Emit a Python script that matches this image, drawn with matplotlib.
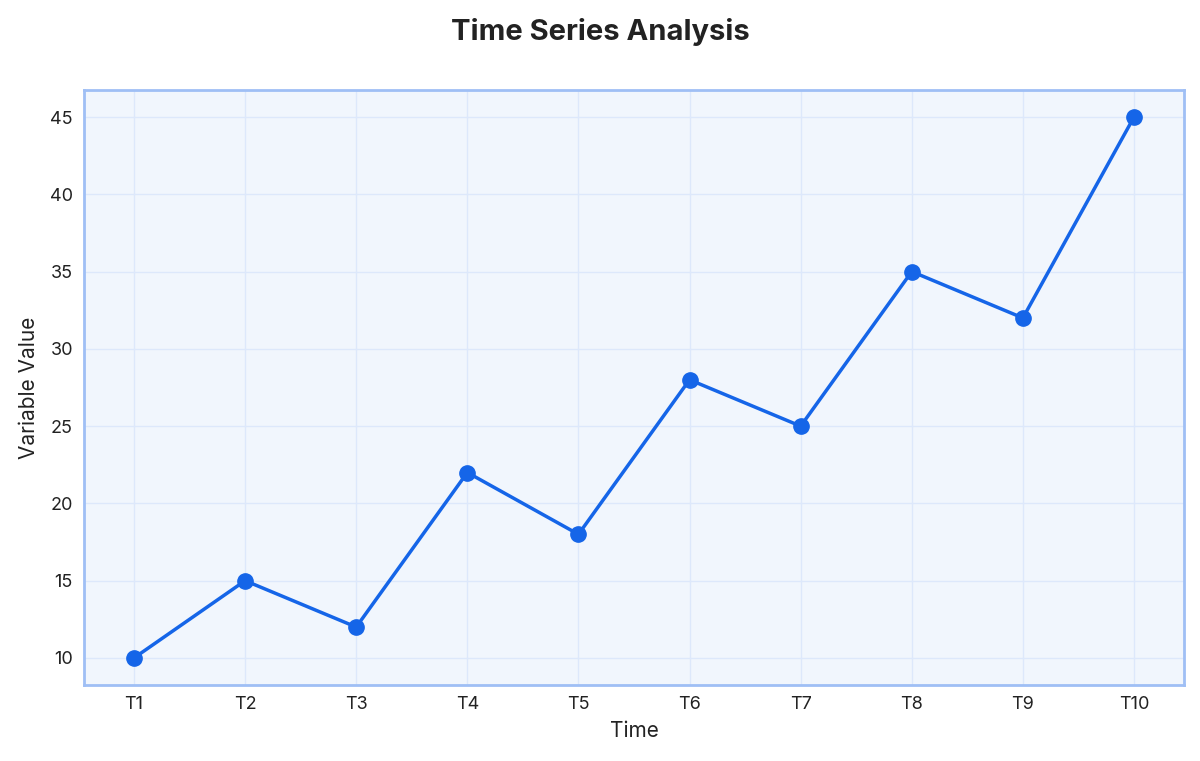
import matplotlib
matplotlib.use("Agg")
import matplotlib.pyplot as plt

times = ["T1", "T2", "T3", "T4", "T5", "T6", "T7", "T8", "T9", "T10"]
values = [10, 15, 12, 22, 18, 28, 25, 35, 32, 45]

plt.rcParams['font.family'] = ['Inter', 'DejaVu Sans']

fig = plt.figure(figsize=(12, 7.61), dpi=100)
ax = fig.add_axes([84/1200, 1 - 685/761, 1100/1200, 595/761])
ax.set_facecolor('#f1f6fd')
ax.plot(range(len(times)), values, color='#1565e8', linewidth=2.5,
        marker='o', markersize=11, zorder=3)
ax.set_xticks(range(len(times)))
ax.set_xticklabels(times)
ax.set_yticks([10, 15, 20, 25, 30, 35, 40, 45])
ax.grid(True, color='#dde8fb', linewidth=1)
ax.set_axisbelow(True)
for s in ax.spines.values():
    s.set_color('#9fbff5')
    s.set_linewidth(2)
ax.tick_params(length=0, labelsize=13, colors='#222222', pad=8)
ax.set_xlabel('Time', fontsize=15, color='#222222', labelpad=6)
ax.set_ylabel('Variable Value', fontsize=15, color='#222222', labelpad=8)
fig.text(0.5, 1 - 32/761, 'Time Series Analysis', ha='center', va='center',
         fontsize=21, fontweight='bold', color='#222222')
fig.savefig('out.png', dpi=100, facecolor='white')
